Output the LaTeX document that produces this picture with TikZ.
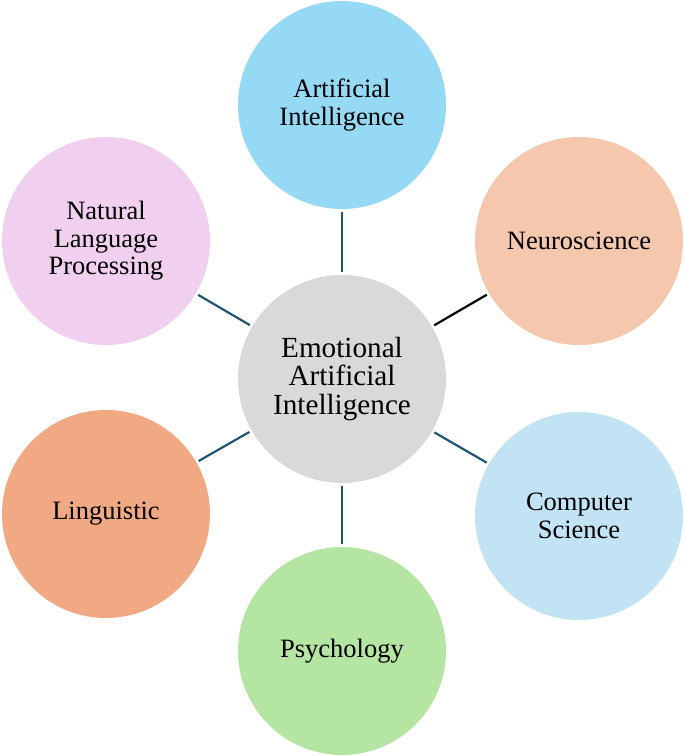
\documentclass[tikz,border=0pt]{standalone}
\usepackage{fontspec}
\setmainfont{Liberation Serif}
\definecolor{cAI}{HTML}{95D9F5}
\definecolor{cNLP}{HTML}{F0D0EE}
\definecolor{cCenter}{HTML}{D9D9D9}
\definecolor{cNeuro}{HTML}{F5C8AE}
\definecolor{cCS}{HTML}{C2E3F4}
\definecolor{cPsy}{HTML}{B4E5A2}
\definecolor{cLing}{HTML}{F1A983}
\definecolor{cLine}{HTML}{1F5673}
\tikzset{
  bubble/.style={circle, draw=none, minimum size=208bp, inner sep=0pt, align=center,
    font=\fontsize{26.6}{27.6}\selectfont},
  hub/.style={bubble, font=\fontsize{29.3}{28.2}\selectfont},
  link/.style={line width=2.2bp, draw=cLine, shorten >=2.5bp, shorten <=2.5bp},
}
\begin{document}
\begin{tikzpicture}[x=1bp,y=-1bp]
\useasboundingbox (0,0) rectangle (685,756);
\node[hub, fill=cCenter] (c) at (342,379) {Emotional\\Artificial\\Intelligence};
\node[bubble, fill=cAI] (ai) at (342,105) {Artificial\\Intelligence};
\node[bubble, fill=cNeuro] (ns) at (579,241) {Neuroscience};
\node[bubble, fill=cCS] (cs) at (579,516) {Computer\\Science};
\node[bubble, fill=cPsy] (psy) at (342,651) {Psychology};
\node[bubble, fill=cLing] (lin) at (106,514) {Linguistic};
\node[bubble, fill=cNLP] (nlp) at (106,241) {Natural\\Language\\Processing};
\draw[link] (c) -- (ai);
\draw[link, draw=black] (c) -- (ns);
\draw[link] (c) -- (cs);
\draw[link] (c) -- (psy);
\draw[link] (c) -- (lin);
\draw[link] (c) -- (nlp);
\end{tikzpicture}
\end{document}
